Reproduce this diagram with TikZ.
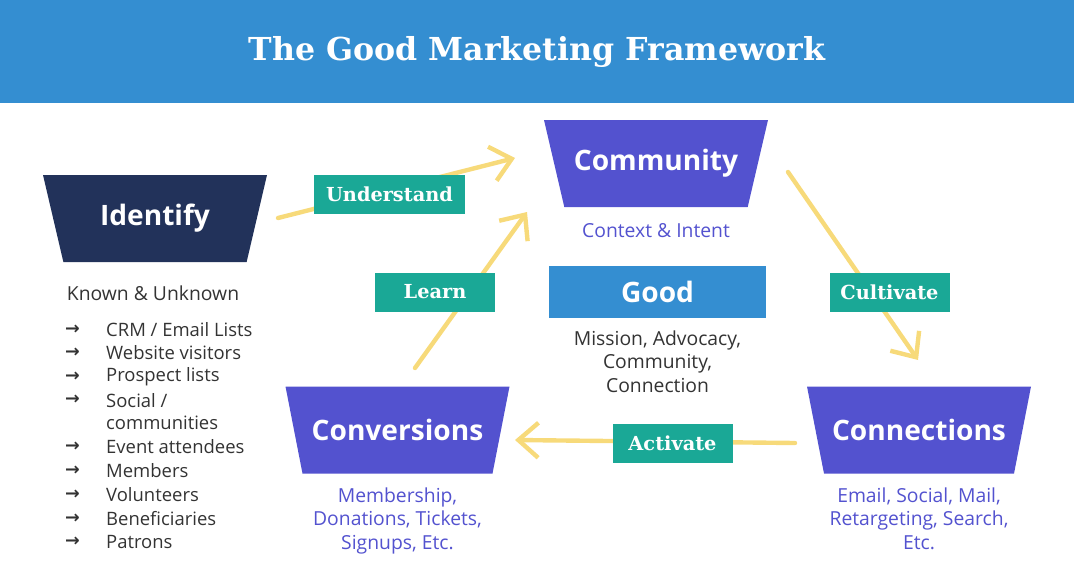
\documentclass[tikz,border=0pt]{standalone}
\usepackage{fontspec}
\setmainfont{Open Sans}
\newfontfamily\serifbold{DejaVu Serif}
\newfontfamily\symbolfont{DejaVu Sans}
\usetikzlibrary{shapes.geometric,arrows.meta,positioning}
\definecolor{titleblue}{HTML}{348ED1}
\definecolor{navy}{HTML}{22325A}
\definecolor{violet}{HTML}{5352CF}
\definecolor{teal}{HTML}{1AA896}
\definecolor{sun}{HTML}{F7DA7A}
\definecolor{ink}{HTML}{333333}
\tikzset{
  funnel/.style={trapezium, shape border rotate=180, trapezium angle=63,
    trapezium stretches body=true, minimum width=4.48cm, minimum height=1.74cm,
    fill=violet, text=white, font=\bfseries\fontsize{16}{16}\selectfont},
  verb/.style={fill=teal, text=white, minimum width=2.4cm, minimum height=0.78cm,
    font=\serifbold\bfseries\fontsize{11}{11}\selectfont},
  flow/.style={draw=sun, line width=2.5pt, line cap=round,
    -{Straight Barb[length=4mm,width=7mm]}},
  note/.style={align=center, font=\fontsize{11}{13.5}\selectfont},
  item/.style={anchor=west, font=\fontsize{10.5}{12.5}\selectfont, text=ink, align=left}
}
\begin{document}
\begin{tikzpicture}[y=-1cm]
\useasboundingbox (0,0) rectangle (21.48,11.52);
% Title bar
\fill[titleblue] (0,0) rectangle (21.48,2.06);
\node[text=white, font=\serifbold\bfseries\fontsize{18}{18}\selectfont] (title) at (10.74,1.04) {The Good Marketing Framework};

% Funnels
\node[funnel, fill=navy] (identify) at (3.1,4.37) {Identify};
\node[funnel] (community) at (13.12,3.27) {Community};
\node[funnel] (conversions) at (7.95,8.6) {Conversions};
\node[funnel] (connections) at (18.38,8.6) {Connections};

% Centre
\node[fill=titleblue, text=white, minimum width=4.34cm, minimum height=1.04cm,
  font=\bfseries\fontsize{16}{16}\selectfont] (good) at (13.15,5.84) {Good};
\node[note, text=ink, below=0.12cm of good] (goodtext) {Mission, Advocacy,\\Community,\\Connection};
\node[note, text=violet, below=0.2cm of community] (intent) {Context \& Intent};
\node[note, text=violet, below=0.15cm of conversions] (conversionstext) {Membership,\\Donations, Tickets,\\Signups, Etc.};
\node[note, text=violet, below=0.15cm of connections] (connectionstext) {Email, Social, Mail,\\Retargeting, Search,\\Etc.};

% Arrows
\coordinate (u1) at (5.56,4.36); \coordinate (u2) at (10.3,3.16);
\coordinate (l1) at (8.3,7.36); \coordinate (l2) at (10.54,4.24);
\coordinate (c1) at (15.76,3.44); \coordinate (c2) at (18.36,7.2);
\coordinate (a1) at (15.9,8.86); \coordinate (a2) at (10.3,8.8);
\draw[flow] (u1) -- (u2);
\draw[flow] (l1) -- (l2);
\draw[flow] (c1) -- (c2);
\draw[flow] (a1) -- (a2);

% Verbs
\node[verb, minimum width=3.02cm] (understand) at (7.79,3.89) {Understand};
\node[verb] (learn) at (8.7,5.84) {Learn};
\node[verb] (cultivate) at (17.79,5.84) {Cultivate};
\node[verb] (activate) at (13.45,8.87) {Activate};

% Identify list
\node[note, text=ink] (known) at (3.06,5.86) {Known \& Unknown};
\foreach \y/\txt in {6.6/{CRM / Email Lists}, 7.06/{Website visitors}, 7.54/{Prospect lists},
  8.24/{Social /\\communities}, 8.94/{Event attendees}, 9.42/{Members}, 9.9/{Volunteers},
  10.38/{Beneficiaries}, 10.84/{Patrons}}{
  \node[item] at (2.0,\y) {\txt};
}
\foreach \y in {6.6,7.06,7.54,8.0,8.94,9.42,9.9,10.38,10.84}{
  \node[font=\symbolfont\bfseries\fontsize{10}{10}\selectfont, text=ink] at (1.45,\y) {→};
}
\end{tikzpicture}
\end{document}
